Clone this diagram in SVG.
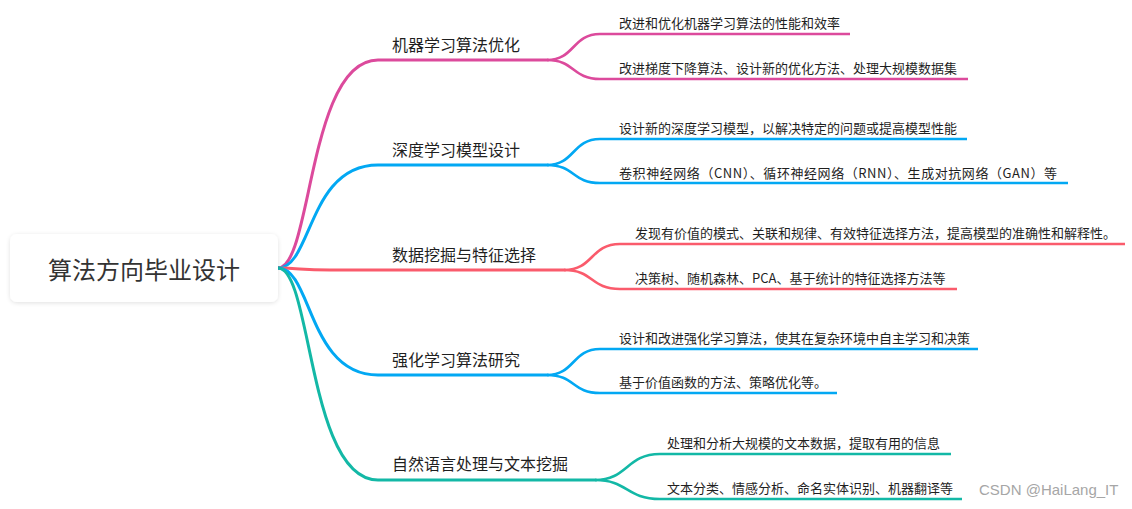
<svg xmlns="http://www.w3.org/2000/svg" width="1132" height="509" viewBox="0 0 1132 509">
<defs>
<style>
.b{fill:none;stroke-width:3;stroke-linecap:round}
.c{fill:none;stroke-width:2.6;stroke-linecap:butt}
.lbl{font-family:"Noto Sans CJK SC","Microsoft YaHei",sans-serif;font-size:16px;fill:#1f1f1f}
.sub{font-family:"Noto Sans CJK SC","Microsoft YaHei",sans-serif;font-size:13px;fill:#1f1f1f}
.root{font-family:"Noto Sans CJK SC","Microsoft YaHei",sans-serif;font-size:24px;fill:#333}
.wm{font-family:"Liberation Sans",Arial,sans-serif;font-size:15px;fill:#a6a6a6}
</style>
<filter id="sh" x="-10%" y="-20%" width="120%" height="150%">
<feDropShadow dx="0" dy="1" stdDeviation="2" flood-color="#000" flood-opacity="0.12"/>
</filter>
</defs>
<rect width="1132" height="509" fill="#fff"/>
<g id="connectors">
<path class="b" stroke="#dc4a9c" d="M278 268 C312 268 308 60 378 60 L548 60"/>
<path class="c" stroke="#dc4a9c" d="M547 60 C575 60 572 34 600 34 L850 34 M547 60 C575 60 572 79 600 79 L968 79"/>
<path class="b" stroke="#02a8f3" d="M278 268 C312 268 308 165 378 165 L548 165"/>
<path class="c" stroke="#02a8f3" d="M547 165 C575 165 572 139 600 139 L967 139 M547 165 C575 165 572 183 600 183 L1068 183"/>
<path class="b" stroke="#fa5b6c" d="M278 268 C300 268 300 270 330 270 L565 270"/>
<path class="c" stroke="#fa5b6c" d="M564 270 C594 270 590 244 620 244 L1125 244 M564 270 C594 270 590 289 620 289 L957 289"/>
<path class="b" stroke="#02a8f3" d="M278 268 C312 268 308 375 378 375 L548 375"/>
<path class="c" stroke="#02a8f3" d="M547 375 C575 375 572 349 600 349 L978 349 M547 375 C575 375 572 393 600 393 L837 393"/>
<path class="b" stroke="#13b8a6" d="M278 268 C312 268 308 480 378 480 L596 480"/>
<path class="c" stroke="#13b8a6" d="M595 480 C628 480 626 454 660 454 L951 454 M595 480 C628 480 626 499 660 499 L962 499"/>
</g>
<g id="root">
<rect x="10" y="234" width="268" height="68" rx="7" fill="#fff" filter="url(#sh)"/>
<text class="root" x="144" y="279" text-anchor="middle">算法方向毕业设计</text>
</g>
<g id="n1"><text class="lbl" x="392" y="51">机器学习算法优化</text></g>
<g id="n1a"><text class="sub" x="619" y="28">改进和优化机器学习算法的性能和效率</text></g>
<g id="n1b"><text class="sub" x="619" y="73">改进梯度下降算法、设计新的优化方法、处理大规模数据集</text></g>
<g id="n2"><text class="lbl" x="392" y="156">深度学习模型设计</text></g>
<g id="n2a"><text class="sub" x="619" y="133">设计新的深度学习模型，以解决特定的问题或提高模型性能</text></g>
<g id="n2b"><text class="sub" x="619" y="178" textLength="438" lengthAdjust="spacing">卷积神经网络（CNN）、循环神经网络（RNN）、生成对抗网络（GAN）等</text></g>
<g id="n3"><text class="lbl" x="392" y="261">数据挖掘与特征选择</text></g>
<g id="n3a"><text class="sub" x="635" y="238">发现有价值的模式、关联和规律、有效特征选择方法，提高模型的准确性和解释性。</text></g>
<g id="n3b"><text class="sub" x="635" y="283">决策树、随机森林、PCA、基于统计的特征选择方法等</text></g>
<g id="n4"><text class="lbl" x="392" y="366">强化学习算法研究</text></g>
<g id="n4a"><text class="sub" x="619" y="343">设计和改进强化学习算法，使其在复杂环境中自主学习和决策</text></g>
<g id="n4b"><text class="sub" x="619" y="387">基于价值函数的方法、策略优化等。</text></g>
<g id="n5"><text class="lbl" x="392" y="470">自然语言处理与文本挖掘</text></g>
<g id="n5a"><text class="sub" x="667" y="448">处理和分析大规模的文本数据，提取有用的信息</text></g>
<g id="n5b"><text class="sub" x="667" y="493">文本分类、情感分析、命名实体识别、机器翻译等</text></g>
<text class="wm" x="979" y="495">CSDN @HaiLang_IT</text>
</svg>
